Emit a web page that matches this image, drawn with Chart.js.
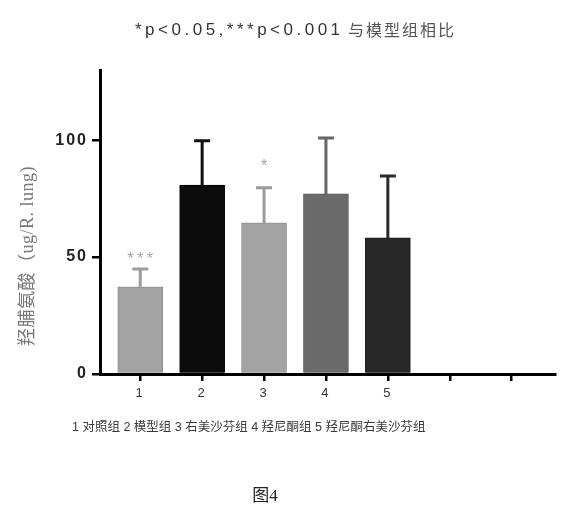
<!DOCTYPE html>
<html>
<head>
<meta charset="utf-8">
<script src="https://cdn.jsdelivr.net/npm/chart.js@4.4.1/dist/chart.umd.min.js"></script>
<style>
html, body { margin: 0; padding: 0; background: #fff; }
#wrap { width: 571px; height: 515px; }
</style>
</head>
<body>
<div id="wrap"><canvas id="canvas" width="571" height="515"></canvas></div>
<script>
// values
var groups = [1, 2, 3, 4, 5];
var tickLabels = ['1', '2', '3', '4', '5', '', ''];
var means = [37.3, 80.8, 64.6, 77.0, 58.2];
var errors = [7.6, 18.9, 15.0, 23.9, 26.5];
var stars = ['***', '', '*', '', ''];
var starLevels = [50.9, null, 90.7, null, null];
var yTicks = [0, 50, 100];

var barColors = ['#a3a3a3', '#0c0c0c', '#a3a3a3', '#6a6a6a', '#272727'];
var barEdges = ['#8f8f8f', '#000000', '#8f8f8f', '#5a5a5a', '#1a1a1a'];
var errColors = ['#9c9c9c', '#111111', '#9c9c9c', '#666666', '#2a2a2a'];

var titleLatin = '*p<0.05,***p<0.001';
var titleCjk = '与模型组相比';
var yTitle = '羟脯氨酸（ug/R. lung)';
var groupNote = '1 对照组 2 模型组 3 右美沙芬组 4 羟尼酮组 5 羟尼酮右美沙芬组';
var figLabel = '图4';

// the tick numbers in the figure are spaced out a bit
var tickSpacing = {
	id: 'tickSpacing',
	beforeDraw: function(chart) { chart.ctx.letterSpacing = '2px'; },
	beforeDatasetsDraw: function(chart) { chart.ctx.letterSpacing = '0px'; }
};

var errorBars = {
	id: 'errorBars',
	afterDatasetsDraw: function(chart) {
		var ctx = chart.ctx;
		var y = chart.scales.y;
		var meta = chart.getDatasetMeta(0);
		ctx.save();
		meta.data.forEach(function(bar, i) {
			var top = y.getPixelForValue(means[i] + errors[i]);
			ctx.strokeStyle = errColors[i];
			ctx.lineWidth = 3;
			ctx.beginPath();
			ctx.moveTo(bar.x, bar.y);
			ctx.lineTo(bar.x, top);
			ctx.moveTo(bar.x - 8, top);
			ctx.lineTo(bar.x + 8, top);
			ctx.stroke();
		});
		ctx.restore();
	}
};

var texts = {
	id: 'texts',
	afterDraw: function(chart) {
		var ctx = chart.ctx;
		var x = chart.scales.x, y = chart.scales.y;
		ctx.save();
		ctx.textBaseline = 'middle';

		// title
		ctx.textAlign = 'left';
		ctx.fillStyle = '#333';
		ctx.font = '17px "Liberation Sans", Arial, sans-serif';
		ctx.letterSpacing = '3.5px';
		ctx.fillText(titleLatin, 135, 30);
		ctx.fillStyle = '#555';
		ctx.font = '16px "Noto Sans CJK SC", sans-serif';
		ctx.letterSpacing = '2px';
		ctx.fillText(titleCjk, 348, 30);

		// y axis title, sits a little below the axis middle
		ctx.save();
		ctx.translate(28, 256);
		ctx.rotate(-Math.PI / 2);
		ctx.textAlign = 'center';
		ctx.fillStyle = '#777';
		ctx.font = '18px "Liberation Serif", "Noto Sans CJK SC", serif';
		ctx.letterSpacing = '0.5px';
		ctx.fillText(yTitle, 0, 0);
		ctx.restore();

		// significance marks
		ctx.textAlign = 'center';
		ctx.fillStyle = '#aaaaaa';
		ctx.font = '17px "Liberation Sans", Arial, sans-serif';
		ctx.letterSpacing = '3px';
		stars.forEach(function(s, i) {
			if (!s) return;
			ctx.fillText(s, x.getPixelForValue(groups[i]) + 1.5, y.getPixelForValue(starLevels[i]) + 4);
		});
		ctx.letterSpacing = '0px';

		// group legend line
		ctx.textAlign = 'left';
		ctx.fillStyle = '#3a3a3a';
		ctx.font = '12.5px "Liberation Sans", "Noto Sans CJK SC", sans-serif';
		ctx.fillText(groupNote, 72, 428);

		// figure caption
		ctx.textAlign = 'center';
		ctx.fillStyle = '#222';
		ctx.font = '17px "Liberation Serif", "Noto Sans CJK SC", serif';
		ctx.fillText(figLabel, 265, 497);
		ctx.restore();
	}
};

var ctx = document.getElementById('canvas').getContext('2d');
var chart = new Chart(ctx, {
	type: 'bar',
	data: {
		datasets: [{
			data: groups.map(function(g, i) { return { x: g, y: means[i] }; }),
			backgroundColor: barColors,
			borderColor: barEdges,
			borderWidth: 1,
			barThickness: 45
		}]
	},
	options: {
		responsive: false,
		devicePixelRatio: 1,
		animation: false,
		layout: { padding: { top: 70, bottom: 101, left: 0, right: 16 } },
		plugins: {
			legend: { display: false },
			tooltip: { enabled: false }
		},
		scales: {
			x: {
				type: 'linear',
				offset: false,
				min: 0.35,
				max: 7.7,
				afterBuildTicks: function(scale) {
					scale.ticks = tickLabels.map(function(l, i) { return { value: i + 1 }; });
				},
				afterFit: function(scale) { scale.height = 40; },
				ticks: {
					autoSkip: false,
					maxRotation: 0,
					padding: 5,
					color: '#333',
					font: { family: '"Liberation Sans", Arial, sans-serif', size: 13 },
					callback: function(v) { return tickLabels[v - 1]; }
				},
				grid: {
					offset: false,
					drawOnChartArea: false,
					drawTicks: true,
					tickLength: 7,
					color: '#000',
					lineWidth: 2.5
				},
				border: { color: '#000', width: 3 }
			},
			y: {
				min: 0,
				max: 130,
				afterBuildTicks: function(scale) {
					scale.ticks = yTicks.map(function(v) { return { value: v }; });
				},
				afterFit: function(scale) { scale.width = 100; },
				ticks: {
					padding: 4,
					color: '#222',
					font: { family: '"Liberation Sans", Arial, sans-serif', size: 16, weight: 'bold' }
				},
				grid: {
					drawOnChartArea: false,
					drawTicks: true,
					tickLength: 8,
					color: '#000',
					lineWidth: 2.5
				},
				border: { color: '#000', width: 3 }
			}
		}
	},
	plugins: [tickSpacing, errorBars, texts]
});
</script>
</body>
</html>
